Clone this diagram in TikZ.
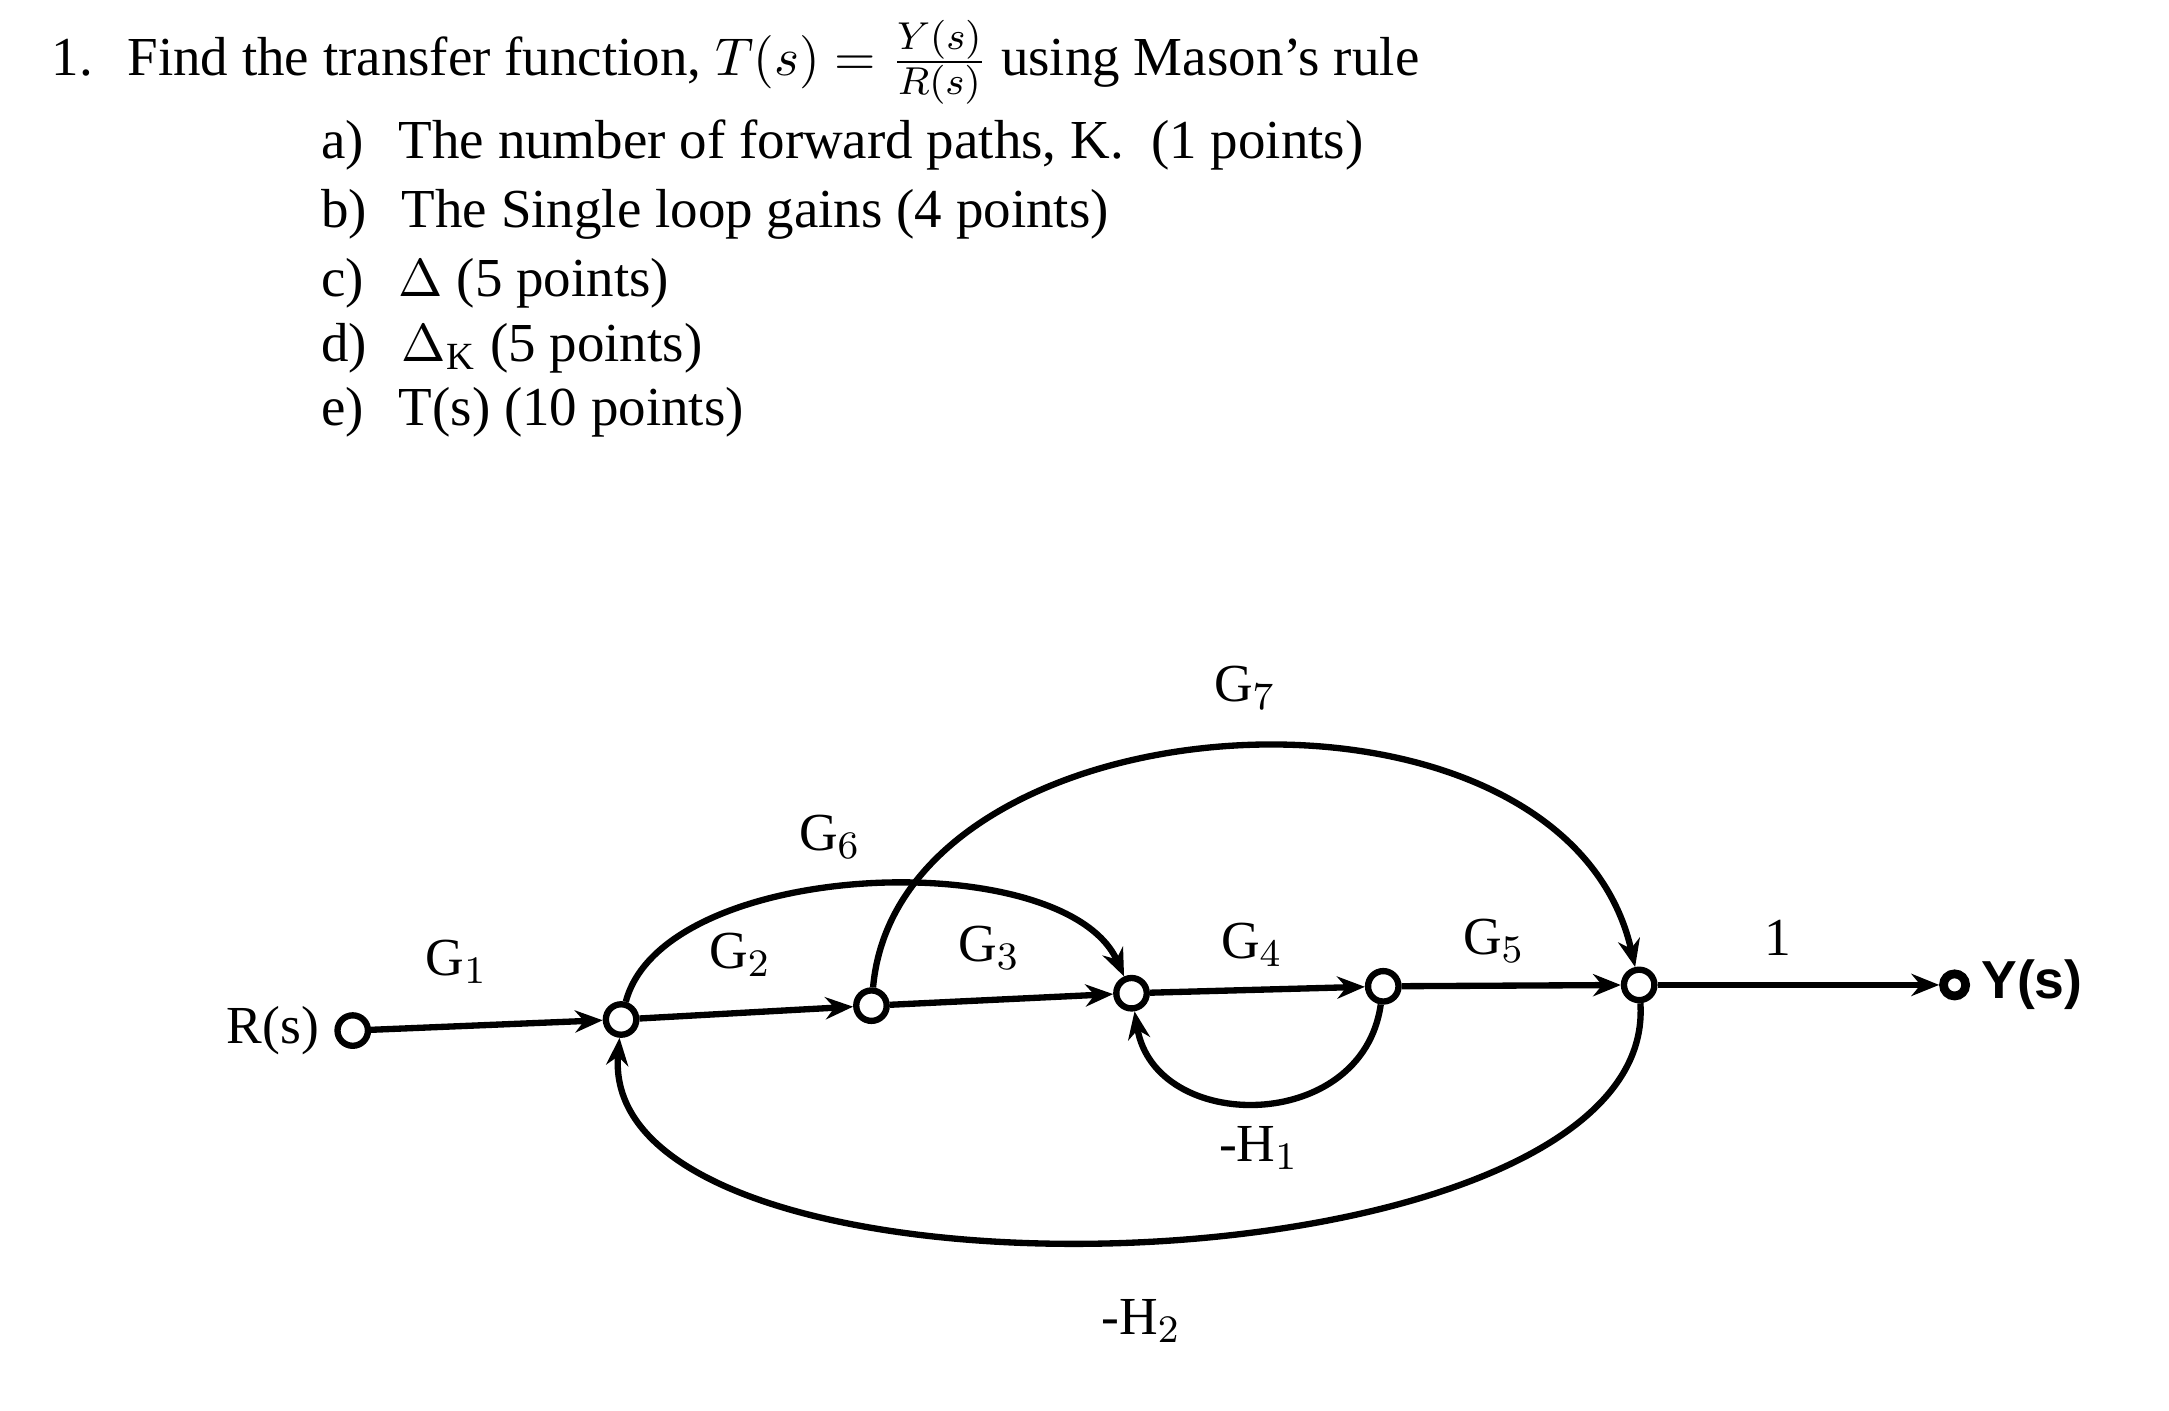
\documentclass[tikz,border=0pt]{standalone}
\usepackage{fontspec}
\setmainfont{Liberation Serif}
\newfontfamily\sansf{Liberation Sans}
\usetikzlibrary{arrows.meta}
\begin{document}
\begin{tikzpicture}[x=0.01cm,y=-0.01cm,
  nd/.style={circle,draw,line width=1.3pt,minimum size=0.22cm,inner sep=0pt},
  br/.style={line width=1.3pt,-{Stealth[length=0.2cm,width=0.16cm]}},
  lb/.style={font=\fontsize{11}{13}\selectfont},
  tx/.style={font=\fontsize{11.3}{13}\selectfont,anchor=west}]
\useasboundingbox (0,0) rectangle (1568,1020);
\node[tx] at (25,45) {1.\hspace{0.25cm}Find the transfer function, $T(s)=\frac{Y(s)}{R(s)}$ using Mason's rule};
\node[tx] at (220,105) {a)\hspace{0.25cm}The number of forward paths, K.\ \ (1 points)};
\node[tx] at (220,155) {b)\hspace{0.25cm}The Single loop gains (4 points)};
\node[tx] at (220,205) {c)\hspace{0.25cm}$\Delta$ (5 points)};
\node[tx] at (220,252) {d)\hspace{0.25cm}$\Delta_{\mathrm{K}}$ (5 points)};
\node[tx] at (220,298) {e)\hspace{0.25cm}T(s) (10 points)};

\node[nd] (r) at (255,745) {};
\node[lb,anchor=east] (rl) at (243,745) {R(s)};
\node[nd] (a) at (449,737) {};
\node[nd] (b) at (630,727) {};
\node[nd] (c) at (818,718) {};
\node[nd] (d) at (1000,713) {};
\node[nd] (e) at (1185,712) {};
\node[circle,draw,line width=1.8pt,minimum size=0.16cm,inner sep=0pt] (y) at (1413,712) {};
\node[anchor=west,font=\sansf\bfseries\fontsize{11}{13}\selectfont] (yl) at (1420,712) {Y(s)};

\draw[br] (r) -- (a);
\draw[br] (a) -- (b);
\draw[br] (b) -- (c);
\draw[br] (c) -- (d);
\draw[br] (d) -- (e);
\draw[br] (e) -- (y);
\draw[br] (a) .. controls (480,620) and (770,610) .. (c);
\draw[br] (b) .. controls (650,500) and (1130,470) .. (e);
\draw[br] (d) .. controls (985,820) and (835,820) .. (c);
\draw[br] (e) .. controls (1200,940) and (430,960) .. (a);

\node[lb] at (330,695) {G$_1$};
\node[lb] at (535,690) {G$_2$};
\node[lb] at (600,605) {G$_6$};
\node[lb] at (715,685) {G$_3$};
\node[lb] at (905,683) {G$_4$};
\node[lb] at (900,497) {G$_7$};
\node[lb] at (1080,680) {G$_5$};
\node[lb] at (1285,678) {1};
\node[lb] at (910,830) {-H$_1$};
\node[lb] at (825,955) {-H$_2$};
\end{tikzpicture}
\end{document}
